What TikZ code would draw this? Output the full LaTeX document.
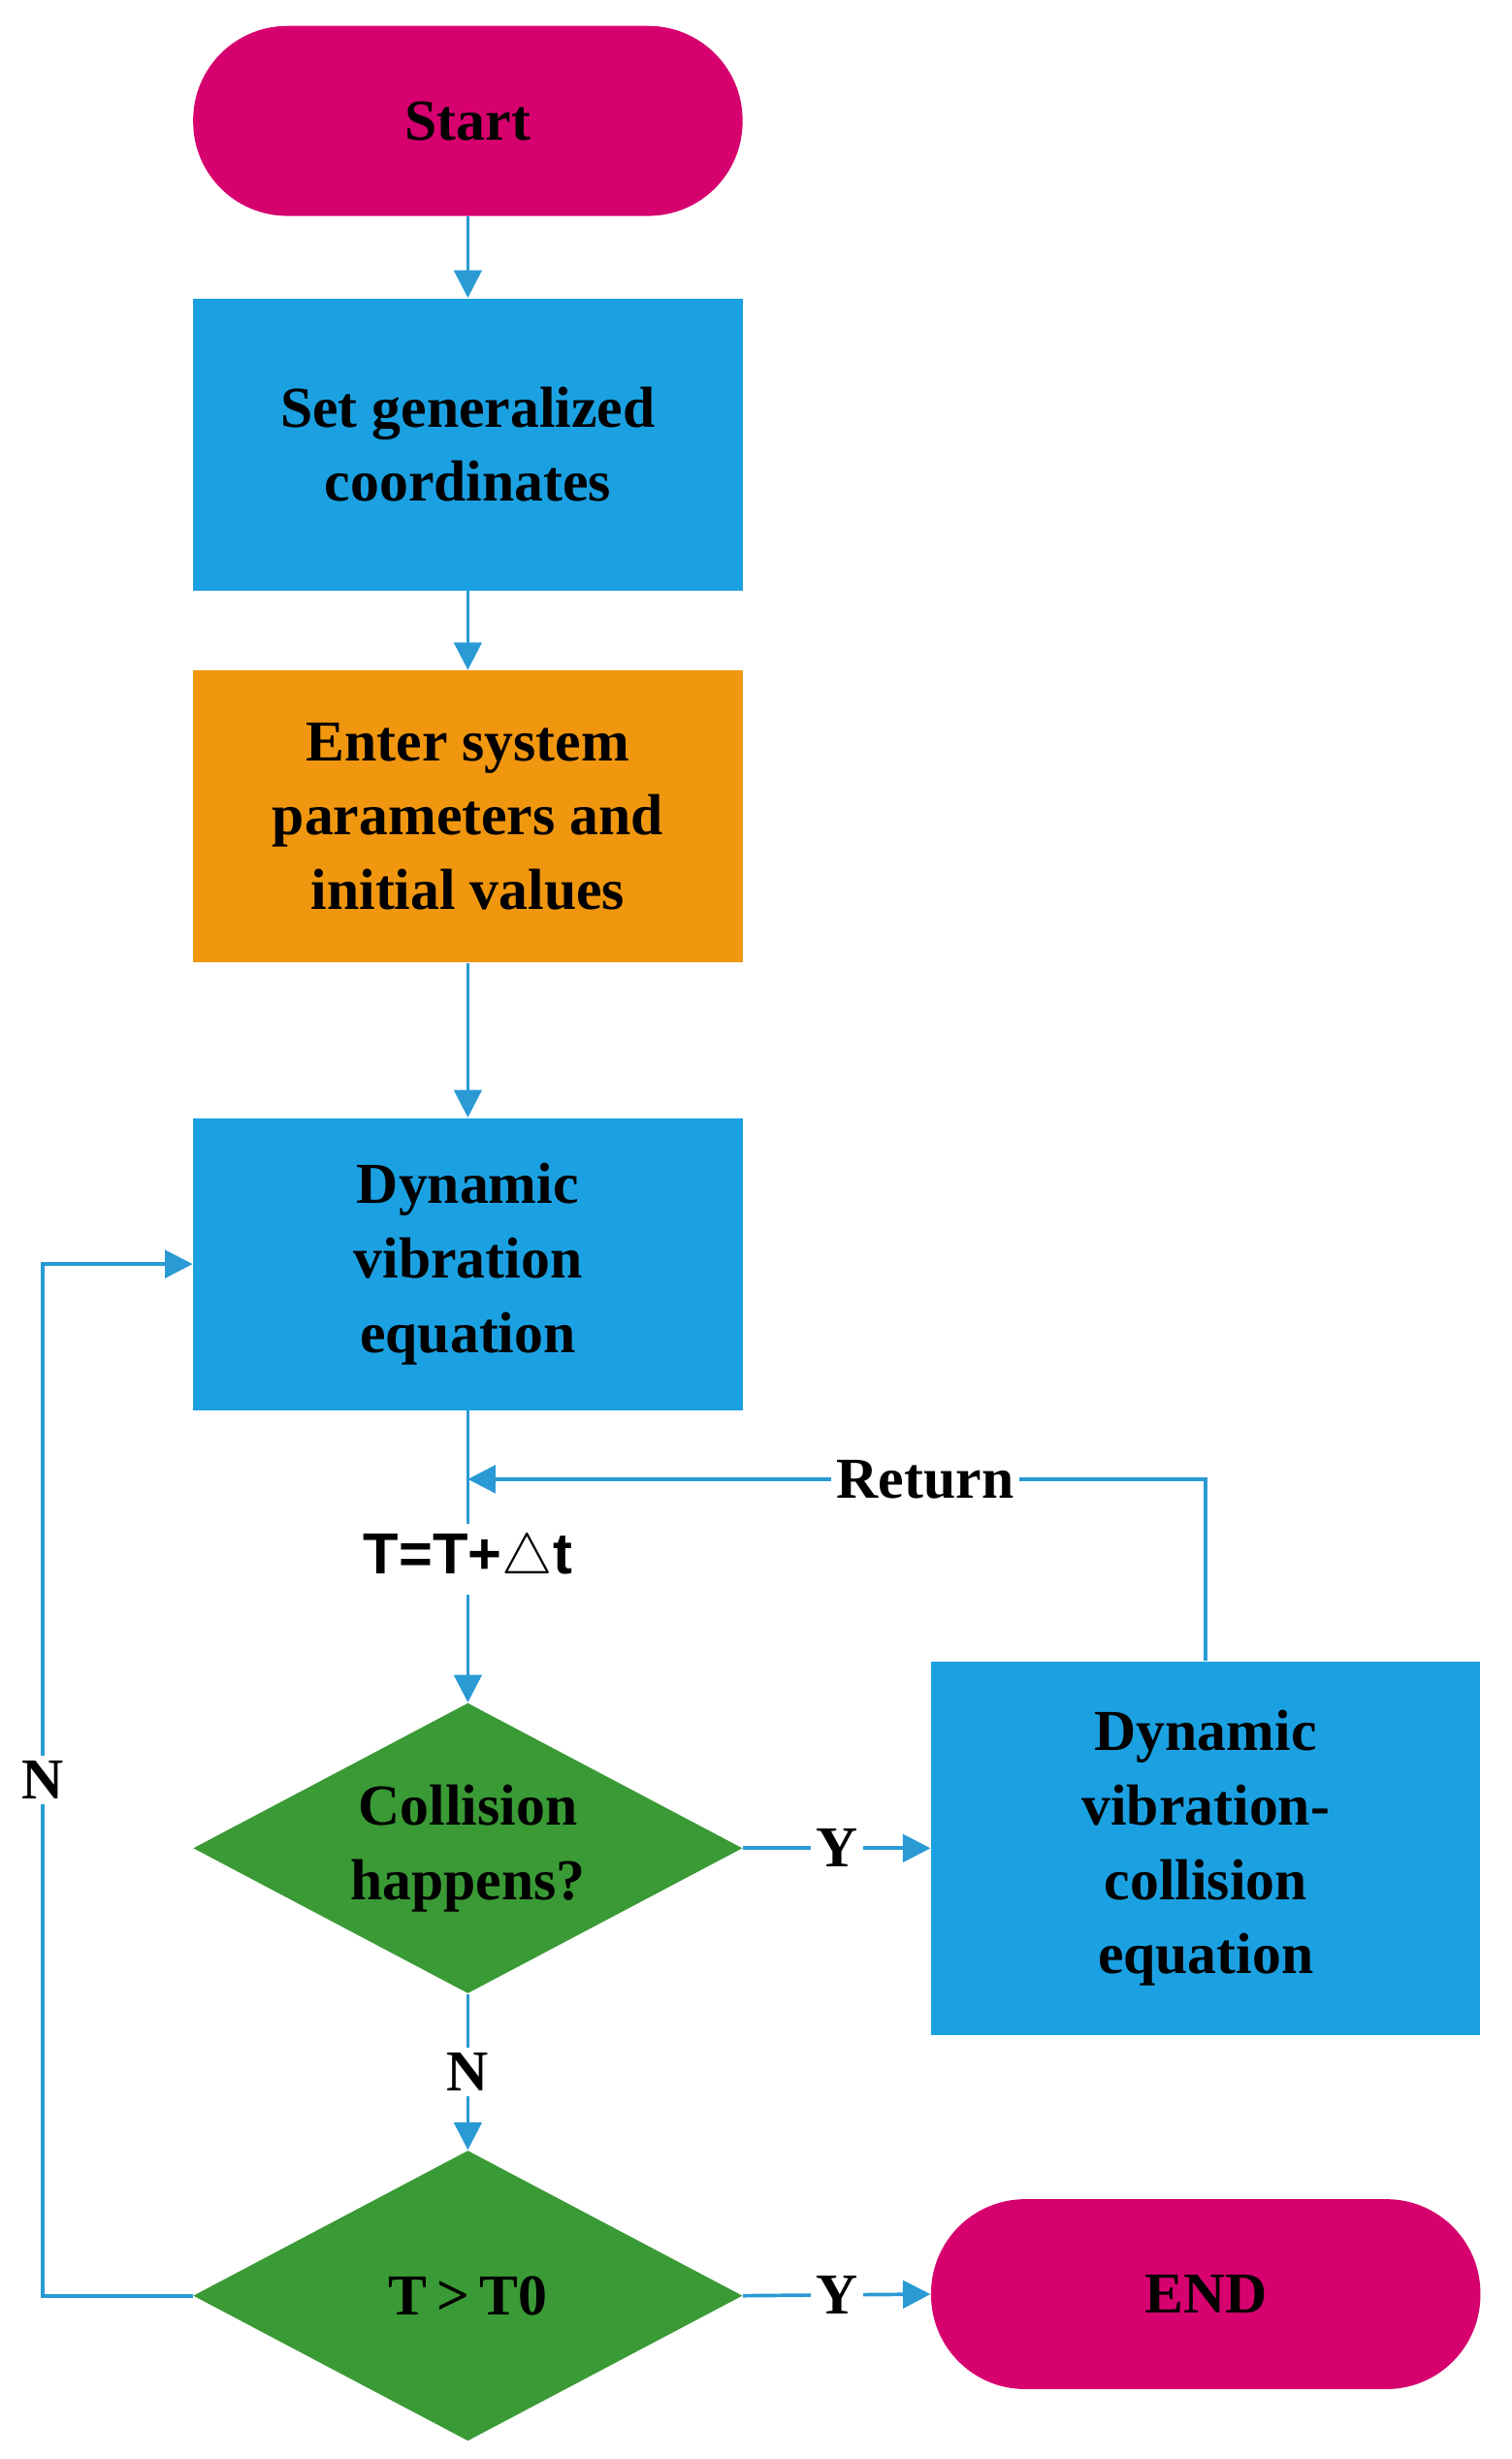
\documentclass[tikz,border=0pt]{standalone}
\usepackage{fontspec}
\setmainfont{Liberation Serif}
\newfontfamily\sansf{Liberation Sans}
\usetikzlibrary{shapes.geometric,arrows.meta}
\definecolor{cmag}{HTML}{D6006F}
\definecolor{cblue}{HTML}{1BA1E2}
\definecolor{corange}{HTML}{F0960F}
\definecolor{cgreen}{HTML}{3A9A35}
\definecolor{cline}{HTML}{2A9AD4}
\begin{document}
\begin{tikzpicture}[x=0.02cm,y=-0.02cm,
  txt/.style={font=\bfseries\fontsize{21}{27}\selectfont,align=center,text=black},
  box/.style={txt,draw=none,minimum width=7cm,minimum height=3.72cm},
  pill/.style={txt,fill=cmag,rounded corners=1.2cm,minimum width=7cm,minimum height=2.42cm},
  dia/.style={txt,fill=cgreen,diamond,aspect=1.89,minimum width=7cm,minimum height=3.7cm,inner sep=0pt},
  arr/.style={draw=cline,line width=1.3pt,-{Triangle[length=10pt,width=10pt]}},
  ln/.style={draw=cline,line width=1.3pt},
  lab/.style={txt,fill=white,inner sep=2pt}]
\useasboundingbox (0,0) rectangle (963,1566);
\node[pill] (start) at (298,77) {Start};
\node[box,fill=cblue] (set) at (298,283) {Set generalized\\coordinates};
\node[box,fill=corange] (enter) at (298,520) {Enter system\\parameters and\\initial values};
\node[box,fill=cblue] (dyn) at (298,805) {Dynamic\\vibration\\equation};
\node[dia] (col) at (298,1177) {Collision\\happens?};
\node[box,fill=cblue,minimum height=4.76cm] (dvc) at (768,1177) {Dynamic\\vibration-\\collision\\equation};
\node[dia] (tt) at (298,1462) {T\,\textgreater\,T0};
\node[pill] (end) at (768,1461) {END};
\node[font=\sansf\bfseries\fontsize{21}{25}\selectfont] (dt) at (298,993) {T=T+$\triangle$t};
\coordinate (ret) at (298,942);
\coordinate (rc) at (768,942);
\coordinate (nl) at (27,1462);
\coordinate (nu) at (27,805);
\draw[arr] (start) -- (set);
\draw[arr] (set) -- (enter);
\draw[arr] (enter) -- (dyn);
\draw[ln] (dyn.south) -- (dt.north);
\draw[arr] (dt.south) -- (col.north);
\draw[arr] (dvc.north) -- (rc) -- node[lab,pos=0.38]{Return} (ret);
\draw[arr] (col.east) -- node[lab]{Y} (dvc.west);
\draw[arr] (col.south) -- node[lab,pos=0.5]{N} (tt.north);
\draw[arr] (tt.east) -- node[lab]{Y} (end.west);
\draw[arr] (tt.west) -- (nl) -- node[lab,pos=0.5]{N} (nu) -- (dyn.west);
\end{tikzpicture}
\end{document}
